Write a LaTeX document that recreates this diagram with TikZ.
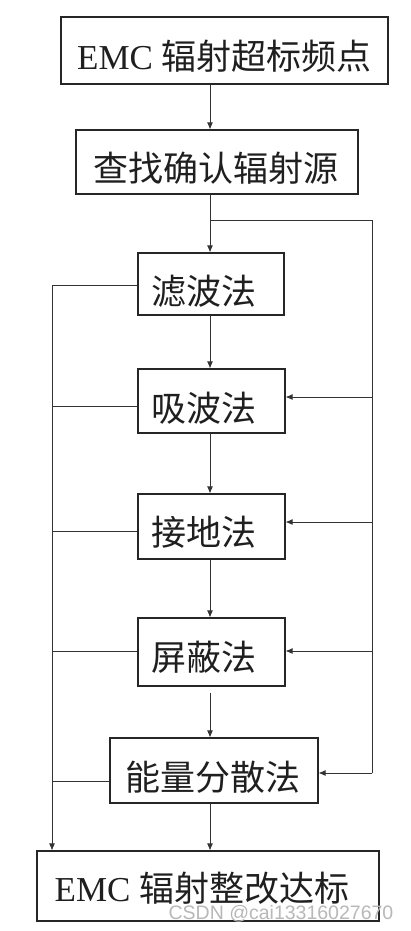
\documentclass[tikz,border=0pt]{standalone}
\usepackage{fontspec}
\setmainfont{Liberation Serif}
\newfontfamily\cjk{Noto Sans CJK SC}
\newfontfamily\wmfont{Liberation Sans}
\usetikzlibrary{arrows.meta}
\begin{document}
\begin{tikzpicture}[x=1pt,y=-1pt,
  boxst/.style={draw=black!85,line width=1.1pt,minimum width=#1,inner sep=0pt},
  txt/.style={inner sep=0pt,text=black!88,font=\fontsize{35}{40}\selectfont},
  ln/.style={draw=black!80,line width=0.9pt},
  arr/.style={ln,-{Latex[length=7pt,width=6pt]}}]
\useasboundingbox (0,0) rectangle (411,931);
\fill[white] (0,0) rectangle (411,931);
% boxes
\node[boxst=327pt,minimum height=67pt] (b1) at (224.5,50.5) {};
\node[boxst=282pt,minimum height=64pt] (b2) at (217,162) {};
\node[boxst=146pt,minimum height=62pt] (b3) at (211,284) {};
\node[boxst=147pt,minimum height=64pt] (b4) at (211.5,401) {};
\node[boxst=147pt,minimum height=65pt] (b5) at (211.5,526.5) {};
\node[boxst=147pt,minimum height=68pt] (b6) at (211.5,652) {};
\node[boxst=208pt,minimum height=65pt] (b7) at (214,770.5) {};
\node[boxst=342pt,minimum height=70pt] (b8) at (208,886) {};
% texts
\node[txt] (t1) at (224.5,56) {EMC {\cjk 辐射超标频点}};
\node[txt] (t2) at (215.5,168) {\cjk 查找确认辐射源};
\node[txt] (t3) at (203.5,291) {\cjk 滤波法};
\node[txt] (t4) at (203.5,408) {\cjk 吸波法};
\node[txt] (t5) at (203.5,532) {\cjk 接地法};
\node[txt] (t6) at (203.5,657) {\cjk 屏蔽法};
\node[txt] (t7) at (212.5,777.5) {\cjk 能量分散法};
\node[txt] (t8) at (202,888) {EMC {\cjk 辐射整改达标}};
% column coordinate
\coordinate (cx) at (210,0);
\draw[arr] (b1.south -| cx) -- (b2.north -| cx);
\draw[arr] (b2.south -| cx) -- (b3.north -| cx);
\draw[arr] (b3.south -| cx) -- (b4.north -| cx);
\draw[arr] (b4.south -| cx) -- (b5.north -| cx);
\draw[arr] (b5.south -| cx) -- (b6.north -| cx);
\draw[arr] ([yshift=-6pt]b6.south -| cx) -- (b7.north -| cx);
\draw[arr] (b7.south -| cx) -- (b8.north -| cx);
% right feedback line
\coordinate (bt) at (210,220);
\coordinate (rt) at (372,220);
\coordinate (r4) at (372,397);
\coordinate (r5) at (372,522);
\coordinate (r6) at (372,651);
\coordinate (r7) at (372,773);
\draw[ln] (bt) -- (rt) -- (r7);
\draw[arr] (r4) -- (r4 -| b4.east);
\draw[arr] (r5) -- (r5 -| b5.east);
\draw[arr] (r6) -- (r6 -| b6.east);
\draw[arr] (r7) -- (r7 -| b7.east);
% left line
\coordinate (l3) at (52,285);
\coordinate (l4) at (52,406);
\coordinate (l5) at (52,531);
\coordinate (l6) at (52,651);
\coordinate (l7) at (52,781);
\draw[arr] (l3 -| b3.west) -- (l3) -- (l3 |- b8.north);
\draw[ln] (l4 -| b4.west) -- (l4);
\draw[ln] (l5 -| b5.west) -- (l5);
\draw[ln] (l6 -| b6.west) -- (l6);
\draw[ln] (l7 -| b7.west) -- (l7);
% watermark
\node[inner sep=0pt,text=black!28,font=\wmfont\fontsize{19.5}{21}\selectfont] (wm) at (281,914) {CSDN @cai13316027670};
\end{tikzpicture}
\end{document}
